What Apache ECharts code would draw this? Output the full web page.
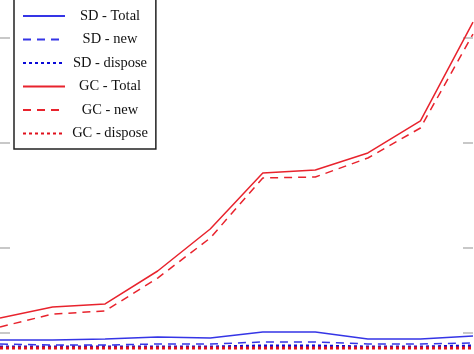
<!DOCTYPE html>
<html><head><meta charset="utf-8">
<script src="https://cdn.jsdelivr.net/npm/echarts@6/dist/echarts.min.js"></script>
<style>html,body{margin:0;padding:0;background:#fff}#c{width:474px;height:354px}</style>
</head><body><div id="c"></div>
<script>
const categories = ['1','2','3','4','5','6','7','8','9','10'];
const sdTotal   = [12.4, 12.4, 13.3, 15.2, 14.3, 20.0, 20.0, 13.3, 13.3, 16.2];
const sdNew     = [8.6, 7.6, 7.6, 8.6, 8.6, 10.5, 10.5, 8.6, 8.6, 9.5];
const sdDispose = [5.7, 5.7, 5.7, 5.7, 5.7, 6.7, 6.7, 5.7, 5.7, 6.7];
const gcTotal   = [33.3, 43.8, 46.7, 78.1, 118.1, 171.4, 174.3, 190.5, 221.0, 315.2];
const gcNew     = [24.8, 37.1, 40.0, 71.4, 109.5, 166.7, 167.6, 185.7, 214.3, 303.8];
const gcDispose = [4.8, 4.8, 4.8, 4.8, 4.8, 4.8, 4.8, 4.8, 4.8, 4.8];
const tickValues = [19, 100, 200, 300];

const BLUE = '#3535e6', BLUE_D = '#0a0ad8', RED = '#e8232d', RED_D = '#e0101c';
function mk(name, data, color, type, width) {
  return {
    name, type: 'line', data, symbol: 'none', clip: false, animation: false,
    lineStyle: { color, type, width }, itemStyle: { color }
  };
}
const yAx = (pos) => ({
  type: 'value', min: 0, max: 300, position: pos,
  axisLine: { show: false }, splitLine: { show: false }, axisLabel: { show: false },
  axisTick: { show: true, inside: true, length: 10, customValues: tickValues,
              lineStyle: { color: '#c8c8c8', width: 2 } }
});
const chart = echarts.init(document.getElementById('c'));
chart.setOption({
  backgroundColor: '#fff',
  animation: false,
  grid: { left: 0, right: 1, top: 38, bottom: 1, containLabel: false },
  xAxis: { type: 'category', data: categories, boundaryGap: false, show: false },
  yAxis: [yAx('left'), yAx('right')],
  legend: {
    orient: 'vertical', left: 14, top: -3.5, itemWidth: 42, itemHeight: 14, itemGap: 8.5,
    padding: [12, 8, 8, 8], borderColor: '#222', borderWidth: 1.5, backgroundColor: '#fff',
    itemStyle: { opacity: 0 },
    formatter: '{a|{name}}',
    textStyle: { fontFamily: 'Liberation Serif', fontSize: 14.5, color: '#111',
      rich: { a: { width: 80, align: 'center', fontFamily: 'Liberation Serif', fontSize: 14.5 } } },
    data: ['SD - Total','SD - new','SD - dispose','GC - Total','GC - new','GC - dispose']
  },
  series: [
    mk('SD - Total', sdTotal, BLUE, 'solid', 1.5),
    mk('SD - new', sdNew, BLUE, [8, 6], 1.5),
    mk('SD - dispose', sdDispose, BLUE_D, [3, 3], 3),
    mk('GC - Total', gcTotal, RED, 'solid', 1.5),
    mk('GC - new', gcNew, RED, [8, 6], 1.5),
    mk('GC - dispose', gcDispose, RED_D, [3, 3], 3)
  ]
});
</script></body></html>
